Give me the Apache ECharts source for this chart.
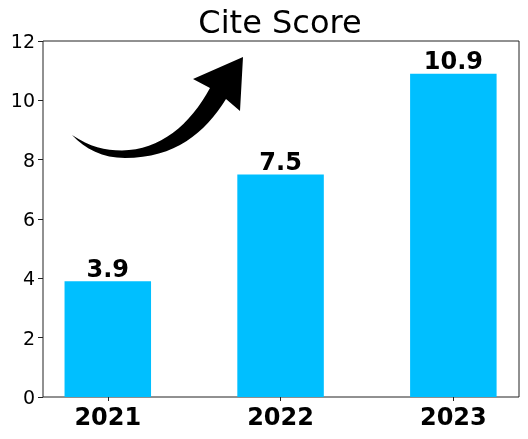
<!DOCTYPE html>
<html>
<head>
<meta charset="utf-8">
<script src="https://cdn.jsdelivr.net/npm/echarts@6/dist/echarts.min.js"></script>
<style>
html, body { margin: 0; padding: 0; background: #fff; }
#main { width: 528px; height: 439px; }
</style>
</head>
<body>
<div id="main"></div>
<script>
var years = [2021, 2022, 2023];
var citeScore = [3.9, 7.5, 10.9];

var arrowPath = 'M72 135 C90 147 105 150.5 122 150.5 C160 150 190 125 210 88 ' +
    'L193 79 L243 57 L240 111 L226 99 C205 133 175 158 125 158 ' +
    'C103 158 85 149 72 135 Z';

echarts.graphic.registerShape('citeArrow', echarts.graphic.extendPath(arrowPath, {}));

var myChart = echarts.init(document.getElementById('main'));
var option = {
    animation: false,
    title: {
        text: 'Cite Score',
        left: 275,
        top: 4,
        textAlign: 'center',
        textStyle: { fontFamily: 'DejaVu Sans', fontWeight: 'normal', fontSize: 32, color: '#000' }
    },
    grid: {
        left: 43, right: 9, top: 41, bottom: 42,
        show: true, borderColor: '#222', borderWidth: 1, backgroundColor: 'transparent'
    },
    xAxis: {
        type: 'value',
        min: 2020.625,
        max: 2023.38,
        splitLine: { show: false },
        axisLine: { show: false },
        axisTick: { show: true, length: 4, customValues: years, lineStyle: { color: '#222' } },
        axisLabel: {
            customValues: years,
            formatter: function(v) { return String(v); },
            fontFamily: 'DejaVu Sans', fontWeight: 'bold', fontSize: 24, color: '#000', margin: 10
        }
    },
    yAxis: {
        type: 'value',
        min: 0,
        max: 12,
        interval: 2,
        splitLine: { show: false },
        axisLine: { show: false },
        axisTick: { show: true, length: 5, lineStyle: { color: '#222' } },
        axisLabel: {
            margin: 8,
            formatter: '{t|{value}}',
            rich: {
                t: { fontFamily: 'DejaVu Sans', fontSize: 19, color: '#000', padding: [4, 0, 0, 0] }
            }
        }
    },
    series: [{
        type: 'bar',
        barWidth: 86.5,
        itemStyle: { color: '#00bfff' },
        label: {
            show: true,
            position: 'top',
            distance: -1,
            formatter: function(p) { return p.value[1].toFixed(1); },
            fontFamily: 'DejaVu Sans', fontWeight: 'bold', fontSize: 24, color: '#000'
        },
        data: years.map(function(y, i) { return [y, citeScore[i]]; })
    }],
    graphic: [{
        type: 'citeArrow',
        z: 10,
        style: { fill: '#000' }
    }]
};
myChart.setOption(option);
</script>
</body>
</html>
